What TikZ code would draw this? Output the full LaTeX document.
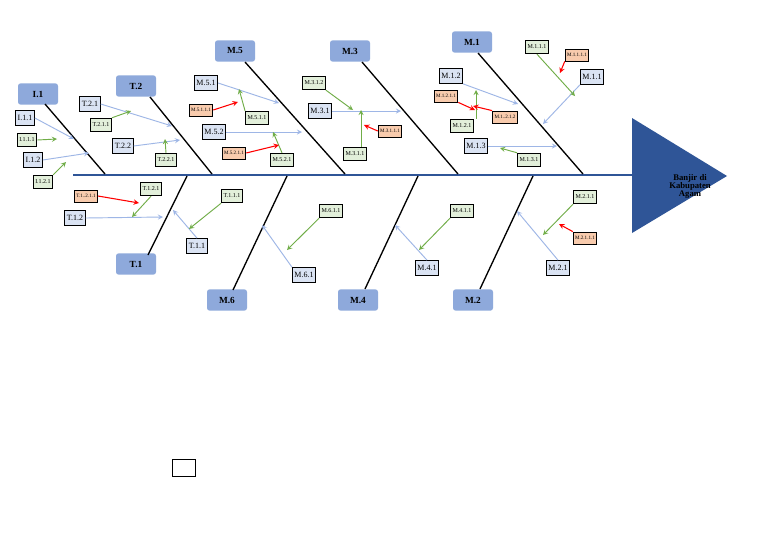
\documentclass[tikz,border=0pt]{standalone}
\usepackage{fontspec}
\setmainfont{Liberation Serif}
\begin{document}
\begin{tikzpicture}[x=0.75pt,y=-0.75pt,
 hd/.style={draw=none,fill=hdc,rounded corners=2pt,minimum width=30pt,minimum height=16pt,font=\fontsize{7}{8}\selectfont\bfseries},
 bb/.style={draw=black,line width=0.8pt,fill=bbc,inner sep=1.5pt,minimum height=11pt,font=\fontsize{6}{7}\selectfont},
 gb/.style={draw=black,line width=0.8pt,fill=gbc,inner sep=1.5pt,minimum height=10pt,font=\fontsize{4.5}{5}\selectfont},
 ob/.style={draw=black,line width=0.6pt,fill=obc,inner sep=1.5pt,minimum height=9pt,font=\fontsize{3.8}{4}\selectfont},
 bone/.style={line width=1pt,black},
 ba/.style={->,>=stealth,draw=bac,line width=0.7pt},
 ga/.style={->,>=stealth,draw=gac,line width=0.7pt},
 ra/.style={->,>=stealth,draw=red,line width=0.8pt}]
\definecolor{hdc}{HTML}{8EA9DB}\definecolor{bbc}{HTML}{DAE3F3}\definecolor{gbc}{HTML}{E2EFDA}
\definecolor{obc}{HTML}{F8CBAD}\definecolor{bac}{HTML}{9EB6E6}\definecolor{gac}{HTML}{70AD47}
\definecolor{tri}{HTML}{2F5597}
\useasboundingbox (0,0) rectangle (768,543);
\fill[white] (0,0) rectangle (768,543);
% spine and head
\draw[line width=1.6pt,color=tri] (73,175) -- (632,175);
\fill[tri] (632,118) -- (727,176) -- (632,233) -- cycle;
\node[font=\fontsize{6.5}{6}\selectfont\bfseries,align=center] (eff) at (690,186) {Banjir di\\Kabupaten\\Agam};
% headings
\node[hd] (I1) at (38,94) {I.1};
\node[hd] (T2) at (136,86) {T.2};
\node[hd] (M5) at (235,51) {M.5};
\node[hd] (M3) at (350,51) {M.3};
\node[hd] (M1) at (472,42) {M.1};
\node[hd] (T1) at (136,264) {T.1};
\node[hd] (M6) at (227,300) {M.6};
\node[hd] (M4) at (358,300) {M.4};
\node[hd] (M2) at (473,300) {M.2};
% bones
\coordinate (e1) at (105,174);\coordinate (e2) at (212,174);\coordinate (e3) at (345,174);
\coordinate (e4) at (458,174);\coordinate (e5) at (583,174);\coordinate (e6) at (187,176);
\coordinate (e7) at (287,176);\coordinate (e8) at (418,176);\coordinate (e9) at (533,176);
\draw[bone] (45,104) -- (e1);
\draw[bone] (150,97) -- (e2);
\draw[bone] (245,62) -- (e3);
\draw[bone] (362,62) -- (e4);
\draw[bone] (478,53) -- (e5);
\draw[bone] (148,255) -- (e6);
\draw[bone] (233,290) -- (e7);
\draw[bone] (365,289) -- (e8);
\draw[bone] (480,289) -- (e9);
% I.1
\node[bb] (a1) at (25,118) {I.1.1};
\node[gb] (a2) at (27,140) {I.1.1.1};
\node[bb] (a3) at (33,160) {I.1.2};
\node[gb] (a4) at (43,182) {I.1.2.1};
\draw[ba] (a1.east) -- (74,139);
\draw[ga] (a2.east) -- (57,139);
\draw[ba] (a3.east) -- (89,153);
\draw[ga] (a4.north east) -- (66,162);
% T.2
\node[bb] (b1) at (90,104) {T.2.1};
\node[gb] (b2) at (101,125) {T.2.1.1};
\node[bb] (b3) at (123,146) {T.2.2};
\node[gb] (b4) at (166,160) {T.2.2.1};
\draw[ba] (b1.east) -- (172,126);
\draw[ga] (b2.north east) -- (131,111);
\draw[ba] (b3.east) -- (180,140);
\draw[ga] (b4.north) -- (165,139);
% T.1
\node[gb] (c1) at (151,189) {T.1.2.1};
\node[ob] (c2) at (86,196) {T.1..2.1.1};
\node[bb] (c3) at (75,218) {T.1.2};
\node[gb] (c4) at (232,196) {T.1.1.1};
\node[bb] (c5) at (197,246) {T.1.1};
\draw[ba] (c3.east) -- (163,217);
\draw[ga] (c1.south) -- (132,217);
\draw[ra] (c2.east) -- (139,203);
\draw[ba] (c5.north) -- (173,210);
\draw[ga] (c4.south west) -- (189,229);
% M.5
\node[bb] (d1) at (206,83) {M.5.1};
\node[ob] (d2) at (201,110) {M.5.1.1.1};
\node[gb] (d3) at (257,118) {M.5.1.1};
\node[bb] (d4) at (214,132) {M.5.2};
\node[ob] (d5) at (234,153) {M.5.2.1.1};
\node[gb] (d6) at (282,160) {M.5.2.1};
\draw[ba] (d1.east) -- (279,103);
\draw[ga] (d3.north west) -- (239,89);
\draw[ra] (d2.east) -- (238,102);
\draw[ba] (d4.east) -- (302,132);
\draw[ga] (d6.north) -- (273,132);
\draw[ra] (d5.east) -- (279,145);
% M.3
\node[gb] (f1) at (314,83) {M.3.1.2};
\node[bb] (f2) at (320,111) {M.3.1};
\node[ob] (f3) at (390,131) {M.3.1.1.1};
\node[gb] (f4) at (355,154) {M.3.1.1};
\draw[ga] (f1.south east) -- (353,110);
\draw[ba] (f2.east) -- (401,111);
\draw[ga] (f4.north) ++(6,0) -- (361,110);
\draw[ra] (f3.west) -- (364,125);
% M.1
\node[bb] (g1) at (451,76) {M.1.2};
\node[ob] (g2) at (446,96) {M.1.2.1.1};
\node[ob] (g3) at (505,117) {M.1..2.1.2};
\node[gb] (g4) at (462,126) {M.1.2.1};
\node[bb] (g5) at (476,146) {M.1.3};
\node[gb] (g6) at (529,160) {M.1.3.1};
\node[gb] (g7) at (537,47) {M.1.1.1};
\node[ob] (g8) at (577,55) {M.1.1.1.1};
\node[bb] (g9) at (592,77) {M.1.1};
\draw[ba] (g1.south east) -- (518,104);
\draw[ga] (g4.north) ++(14,0) -- (476,90);
\draw[ra] (g2.south east) -- (475,110);
\draw[ra] (g3.north west) -- (473,106);
\draw[ba] (g5.east) -- (557,146);
\draw[ga] (g6.north west) -- (500,148);
\draw[ba] (g9.south west) -- (543,124);
\draw[ga] (g7.south) -- (575,96);
\draw[ra] (g8.south west) -- (560,73);
% bottom
\node[gb] (h1) at (331,211) {M.6.1.1};
\node[bb] (h2) at (304,275) {M.6.1};
\node[gb] (h3) at (462,211) {M.4.1.1};
\node[bb] (h4) at (427,268) {M.4.1};
\node[gb] (h5) at (585,197) {M.2.1.1};
\node[ob] (h6) at (585,238) {M.2.1.1.1};
\node[bb] (h7) at (558,268) {M.2.1};
\draw[ba] (h2.north west) -- (262,225);
\draw[ga] (h1.south west) -- (287,250);
\draw[ba] (h4.north) -- (395,225);
\draw[ga] (h3.south west) -- (419,250);
\draw[ba] (h7.north) -- (517,211);
\draw[ga] (h5.south west) -- (543,235);
\draw[ra] (h6.north west) -- (559,224);
% empty box
\node[draw=black,line width=0.6pt,minimum width=17pt,minimum height=13pt,inner sep=0pt] (eb) at (184,468) {};
\end{tikzpicture}
\end{document}
